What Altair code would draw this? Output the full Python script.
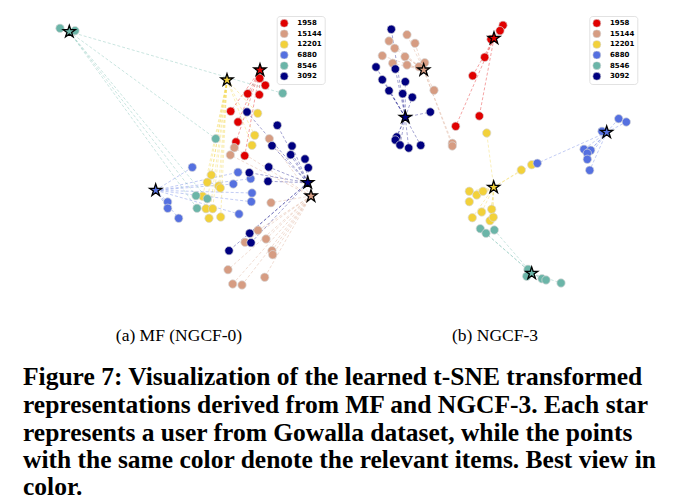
import altair as alt
import pandas as pd

USERS = ["1958", "15144", "12201", "6880", "8546", "3092"]
COLORS = ["#e00000", "#d69c82", "#f2d13a", "#5570e0", "#6bb5a8", "#000080"]

mf_users = {
    "1958": (260.0, 70.0),
    "15144": (311.0, 196.0),
    "12201": (227.0, 80.0),
    "6880": (155.7, 190.3),
    "8546": (69.3, 31.7),
    "3092": (307.7, 182.7),
}
mf_1958 = [(259.7, 78.3), (265.3, 85.3), (247.7, 93.7), (259.3, 94.7), (230.7, 111.3),
           (238.0, 122.0), (236.0, 142.0), (244.7, 155.7)]
mf_15144 = [(269.3, 138.7), (234.3, 147.7), (230.3, 155.0), (271.0, 202.7), (258.0, 230.3),
            (245.0, 242.3), (266.0, 239.0), (272.0, 250.7), (272.7, 254.7), (228.0, 269.7),
            (232.7, 284.0), (242.0, 285.0), (264.7, 277.3)]
mf_12201 = [(257.7, 113.3), (254.7, 135.3), (252.0, 145.3), (211.3, 175.0), (207.3, 182.3),
            (218.7, 186.0), (220.3, 188.0), (202.7, 196.3), (206.0, 208.7), (212.7, 208.7),
            (209.0, 218.3), (220.7, 217.0)]
mf_6880 = [(192.3, 167.3), (238.0, 172.3), (233.3, 184.0), (250.7, 178.7), (252.0, 193.0),
           (251.3, 201.7), (239.0, 214.0), (167.7, 202.0), (167.7, 208.3), (178.7, 218.3)]
mf_8546 = [(60.0, 28.3), (75.0, 30.7), (282.7, 93.3), (215.7, 138.7), (196.0, 195.7),
           (207.3, 198.7), (197.0, 208.3)]
mf_3092 = [(247.0, 112.0), (277.3, 125.3), (272.0, 145.7), (292.0, 146.0), (290.7, 154.7),
           (305.0, 159.0), (308.3, 167.7), (268.7, 167.0), (249.3, 172.7), (268.0, 181.3),
           (249.7, 233.3), (251.0, 242.7), (229.0, 250.7)]

ngcf_users = {
    "1958": (494.0, 38.3),
    "15144": (423.7, 70.0),
    "12201": (493.7, 187.3),
    "6880": (606.7, 132.3),
    "8546": (531.7, 273.3),
    "3092": (405.3, 117.3),
}
ngcf_1958 = [(503.0, 25.3), (500.0, 30.7), (491.0, 39.3), (484.7, 57.3), (472.7, 75.7),
             (479.3, 116.0), (455.7, 126.3)]
ngcf_15144 = [(407.0, 34.7), (389.0, 41.0), (415.0, 43.3), (394.7, 48.3), (382.3, 55.7),
              (405.0, 56.7), (392.7, 63.3), (407.0, 65.0), (424.7, 62.7), (419.0, 66.7),
              (434.0, 90.3), (452.3, 143.3), (452.3, 146.0)]
ngcf_12201 = [(486.7, 133.0), (521.3, 170.0), (531.7, 164.7), (469.3, 191.3), (476.7, 195.0),
              (483.0, 191.3), (469.3, 201.7), (481.7, 212.0), (491.7, 209.3), (472.3, 217.7),
              (490.0, 220.7), (493.3, 217.3)]
ngcf_6880 = [(537.3, 163.3), (618.7, 118.7), (626.3, 122.0), (602.0, 131.3), (584.0, 149.3),
             (590.7, 150.3), (587.3, 153.3), (587.3, 159.3), (589.7, 170.3)]
ngcf_8546 = [(480.3, 228.7), (486.0, 233.3), (494.3, 230.0), (528.0, 269.3), (526.7, 276.3),
             (542.0, 278.7), (546.0, 280.0), (561.0, 283.0)]
ngcf_3092 = [(391.3, 29.3), (376.0, 67.0), (395.3, 69.0), (382.3, 79.7), (405.3, 81.7),
             (389.0, 90.7), (402.7, 93.7), (412.3, 97.3), (430.3, 112.0), (396.7, 137.0),
             (395.3, 140.0), (400.0, 145.0), (408.7, 148.0), (420.7, 145.3)]

SUB_A = "(a)  MF (NGCF-0)"
SUB_B = "(b)  NGCF-3"
CAPTION = [
    "Figure 7: Visualization of the learned t-SNE transformed",
    "representations derived from MF and NGCF-3. Each star",
    "represents a user from Gowalla dataset, while the points",
    "with the same color denote the relevant items. Best view in",
    "color.",
]

STAR = ("M0,-1L0.2245,-0.309L0.9511,-0.309L0.3633,0.118L0.5878,0.809L0,0.382"
        "L-0.5878,0.809L-0.3633,0.118L-0.9511,-0.309L-0.2245,-0.309Z")

mf_items = dict(zip(USERS, [mf_1958, mf_15144, mf_12201, mf_6880, mf_8546, mf_3092]))
ngcf_items = dict(zip(USERS, [ngcf_1958, ngcf_15144, ngcf_12201, ngcf_6880, ngcf_8546, ngcf_3092]))

# colour range in the default (sorted) order, for scales with data-driven domains
SORTED_USERS = sorted(USERS)
SORTED_COLORS = [COLORS[USERS.index(u)] for u in SORTED_USERS]


def frames(users, items):
    rows = []
    for u in USERS:
        sx, sy = users[u]
        for (x, y) in items[u]:
            rows.append(dict(user=u, link_user=u, x=x, y=y, sx=sx, sy=sy))
    stars = pd.DataFrame([dict(star_user=u, x=users[u][0], y=users[u][1]) for u in USERS])
    return pd.DataFrame(rows), stars


def panel(users, items, xdom, legx, legy):
    idf, sdf = frames(users, items)
    xs = alt.Scale(domain=xdom)
    ys = alt.Scale(domain=[8, 310], reverse=True)
    legend = alt.Legend(
        orient="none", legendX=legx, legendY=legy, title=None,
        symbolType="circle", symbolSize=64, symbolStrokeColor="#d8d8d8",
        symbolStrokeWidth=0.6, symbolOpacity=1, clipHeight=8.5,
        labelFont="DejaVu Sans", labelFontWeight="bold", labelFontSize=7,
        labelColor="black", labelOffset=8.6, rowPadding=1.6, padding=3,
        strokeColor="#e2e2e2", fillColor="white", cornerRadius=3,
    )
    lines = alt.Chart(idf).mark_rule(strokeWidth=0.6, strokeDash=[3, 2], opacity=0.6).encode(
        x=alt.X("sx:Q", scale=xs, axis=None),
        y=alt.Y("sy:Q", scale=ys, axis=None),
        x2="x:Q", y2="y:Q",
        stroke=alt.Stroke("link_user:N", scale=alt.Scale(range=SORTED_COLORS), legend=None),
    )
    pts = alt.Chart(idf).mark_circle(size=70, opacity=1, stroke="#d9d9d9", strokeWidth=0.7).encode(
        x=alt.X("x:Q", scale=xs, axis=None),
        y=alt.Y("y:Q", scale=ys, axis=None),
        color=alt.Color("user:N", scale=alt.Scale(domain=USERS, range=COLORS), legend=legend),
    )
    stars = alt.Chart(sdf).mark_point(shape=STAR, filled=True, size=165, stroke="black",
                                      strokeWidth=1.3, opacity=1).encode(
        x=alt.X("x:Q", scale=xs, axis=None),
        y=alt.Y("y:Q", scale=ys, axis=None),
        fill=alt.Fill("star_user:N", scale=alt.Scale(range=SORTED_COLORS), legend=None),
    )
    return alt.layer(lines, pts, stars).properties(width=332, height=302)


pa = panel(mf_users, mf_items, [8, 340], 268.7, 8)
pb = panel(ngcf_users, ngcf_items, [340, 672], 249.3, 8)

row = alt.hconcat(pa, pb, spacing=0).resolve_scale(
    color="independent", fill="independent", stroke="independent"
).resolve_legend(color="independent")


def txt(s, x, y, size, weight, align):
    return alt.Chart(pd.DataFrame({"t": [s]})).mark_text(
        align=align, baseline="alphabetic", font="Liberation Serif",
        fontSize=size, fontWeight=weight, color="black",
    ).encode(text="t:N", x=alt.value(x), y=alt.value(y))


cap_layers = [txt(SUB_A, 171, 30.5, 17.5, "normal", "center"),
              txt(SUB_B, 487, 30.5, 17.5, "normal", "center")]
for i, line in enumerate(CAPTION):
    cap_layers.append(txt(line, 15, [75, 103, 130.5, 158, 185][i], 25.5, "bold", "left"))
cap = alt.layer(*cap_layers).properties(width=664, height=186)

chart = alt.vconcat(row, cap, spacing=0).properties(padding=0, background="white").configure_view(stroke=None)

chart.save("out.html", embed_options={"renderer": "svg", "actions": False})
